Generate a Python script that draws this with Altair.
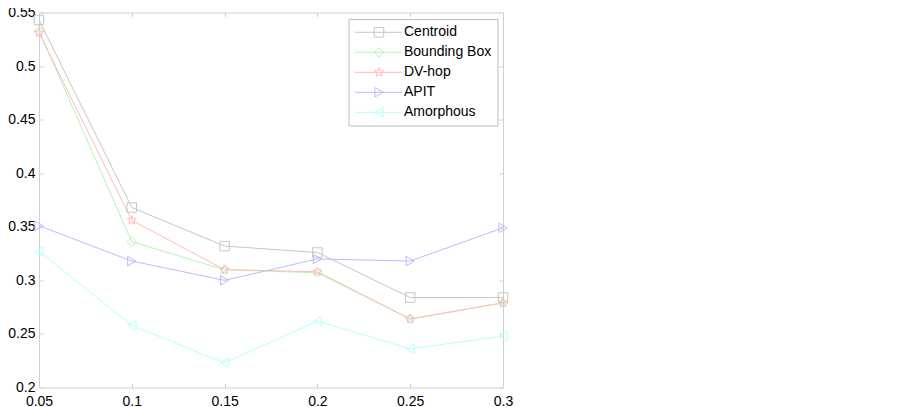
import math
import altair as alt
import pandas as pd

# ---- data ----
x_vals = [0.05, 0.1, 0.15, 0.2, 0.25, 0.3]
series = ["Centroid", "Bounding Box", "DV-hop", "APIT", "Amorphous"]
centroid = [0.543, 0.368, 0.332, 0.326, 0.284, 0.284]
bounding_box = [0.533, 0.336, 0.310, 0.307, 0.264, 0.279]
dv_hop = [0.531, 0.356, 0.310, 0.308, 0.264, 0.279]
apit = [0.351, 0.318, 0.300, 0.320, 0.318, 0.349]
amorphous = [0.327, 0.258, 0.223, 0.262, 0.236, 0.248]
x_ticks = [0.05, 0.1, 0.15, 0.2, 0.25, 0.3]
y_ticks = [0.2, 0.25, 0.3, 0.35, 0.4, 0.45, 0.5, 0.55]

colors = ["#c6c6c6", "#b4f4b4", "#ffbaba", "#babaff", "#b6ffff"]


def star_path(n=5, r_out=1.0, r_in=0.45):
    pts = []
    for i in range(2 * n):
        r = r_out if i % 2 == 0 else r_in
        a = -math.pi / 2 + i * math.pi / n
        pts.append(f"{r * math.cos(a):.3f},{r * math.sin(a):.3f}")
    return "M" + "L".join(pts) + "Z"


shapes = ["square", "diamond", star_path(), "triangle-right", "triangle-left"]

values = [centroid, bounding_box, dv_hop, apit, amorphous]
rows = []
for name, vals in zip(series, values):
    for xv, yv in zip(x_vals, vals):
        rows.append({"x": xv, "y": yv, "series": name})
df = pd.DataFrame(rows)
legend_df = pd.DataFrame({"series": series})

FONT = "Liberation Sans"
FRAME = "#d0d0d0"

color_scale = alt.Scale(domain=series, range=colors)
shape_scale = alt.Scale(domain=series, range=shapes)
x_scale = alt.Scale(domain=[0.05, 0.3], nice=False, zero=False)
y_scale = alt.Scale(domain=[0.2, 0.55], nice=False, zero=False)

common_axis = dict(grid=False, domain=False, tickSize=4, tickColor=FRAME, offset=-4,
                   labelFont=FONT, labelFontSize=14, labelColor="black", format=".2~f",
                   labelFlush=False, labelOverlap=False, labelBound=False)

lines = alt.Chart(df).mark_line(strokeWidth=1).encode(
    x=alt.X("x:Q", scale=x_scale,
            axis=alt.Axis(values=x_ticks, orient="bottom", labelPadding=7, **common_axis), title=None),
    y=alt.Y("y:Q", scale=y_scale,
            axis=alt.Axis(values=y_ticks, orient="left", labelPadding=4, **common_axis), title=None),
    color=alt.Color("series:N", scale=color_scale, legend=None),
    detail="series:N",
)

points = alt.Chart(df).mark_point(filled=False, size=90, strokeWidth=1, opacity=1).encode(
    x=alt.X("x:Q", scale=x_scale, axis=None),
    y=alt.Y("y:Q", scale=y_scale, axis=None),
    color=alt.Color("series:N", scale=color_scale, legend=None),
    shape=alt.Shape("series:N", scale=shape_scale, legend=None),
)

tick_axis = dict(grid=False, domain=False, tickSize=4, tickColor=FRAME, offset=-4, labels=False)
mirror = alt.Chart(df).mark_point(opacity=0).encode(
    x=alt.X("x:Q", scale=x_scale, axis=alt.Axis(values=x_ticks, orient="top", **tick_axis), title=None),
    y=alt.Y("y:Q", scale=y_scale, axis=alt.Axis(values=y_ticks, orient="right", **tick_axis), title=None),
)

# ---- custom legend (line + marker samples) ----
leg_y = alt.Y("series:N", scale=alt.Scale(type="point", domain=series, range=[19.8, 99.8], padding=0),
              axis=None)

legend_box = alt.Chart(pd.DataFrame({"series": ["box"]})).mark_rect(
    fill="white", stroke="#bdbdbd", strokeWidth=1
).encode(x=alt.value(310), x2=alt.value(459), y=alt.value(7), y2=alt.value(113.5))

legend_rule = alt.Chart(legend_df).mark_rule(strokeWidth=1).encode(
    x=alt.value(316), x2=alt.value(363), y=leg_y,
    color=alt.Color("series:N", scale=color_scale, legend=None),
)
legend_pts = alt.Chart(legend_df).mark_point(filled=False, size=90, strokeWidth=1, opacity=1).encode(
    x=alt.value(340), y=leg_y,
    color=alt.Color("series:N", scale=color_scale, legend=None),
    shape=alt.Shape("series:N", scale=shape_scale, legend=None),
)
legend_txt = alt.Chart(legend_df).mark_text(
    align="left", baseline="middle", font=FONT, fontSize=14, color="black"
).encode(x=alt.value(365), y=leg_y, text="series:N")

chart = alt.layer(
    lines, points, mirror, legend_box, legend_rule, legend_pts, legend_txt
).resolve_scale(
    y="independent"
).resolve_axis(
    x="independent", y="independent"
).properties(
    width=464, height=375,
    autosize=alt.AutoSizeParams(type="none"),
    padding={"left": 31, "top": 4.5, "right": 380, "bottom": 40},
    background="white",
).configure_view(
    stroke=FRAME, strokeWidth=1
)

chart.save("out.html", embed_options={"renderer": "svg", "actions": False})
